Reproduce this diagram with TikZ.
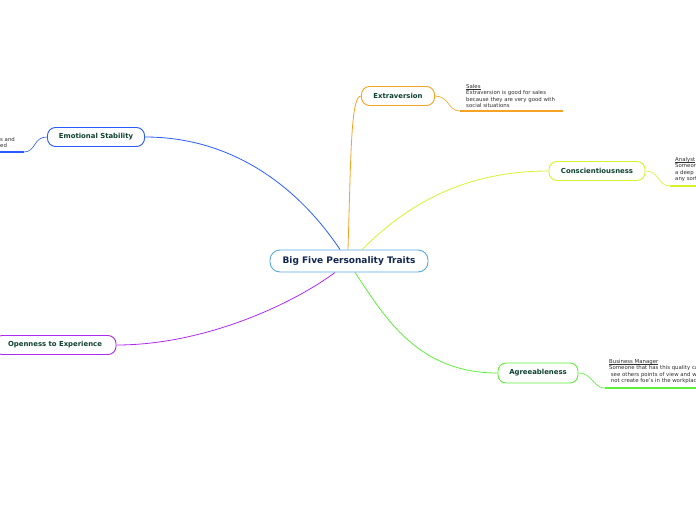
\documentclass[tikz,border=0pt]{standalone}
\usepackage{fontspec}
\setmainfont{DejaVu Sans}
\usepackage{xcolor}
\usetikzlibrary{positioning,backgrounds}
\definecolor{rootline}{HTML}{5AA8E0}
\definecolor{roottext}{HTML}{12264F}
\definecolor{topictext}{HTML}{0E3F30}
\definecolor{notetext}{HTML}{2E2E2E}
\definecolor{emocol}{HTML}{2A5BFF}
\definecolor{extcol}{HTML}{F5A323}
\definecolor{concol}{HTML}{D8F22E}
\definecolor{agrcol}{HTML}{5CF03A}
\definecolor{opecol}{HTML}{AE2AF0}
\newcommand\noteul[1]{\leavevmode\setbox0\hbox{#1}\rlap{\vrule width\wd0 height -0.6pt depth 0.95pt}\box0}

\begin{document}
\begin{tikzpicture}[
    x=1pt,y=-1pt,
    topic/.style={rectangle,draw,fill=white,rounded corners=8pt,line width=0.9pt,
                  minimum height=19pt,inner sep=0pt,text=topictext,
                  font=\fontsize{6.9}{7.5}\selectfont\bfseries},
    note/.style={anchor=south west,align=left,inner sep=0pt,text=notetext,
                 font=\fontsize{5.4}{6.4}\selectfont},
    branch/.style={line width=0.8pt},
    twig/.style={line width=0.6pt},
    baseline/.style={line width=1.3pt},
]
\clip (0,0) rectangle (696,520);

\node[topic,draw=rootline,text=roottext,minimum width=158pt,minimum height=22pt,
      rounded corners=10pt,font=\fontsize{9}{10}\selectfont\bfseries] (root) at (349,261) {Big Five Personality Traits};
\node[topic,draw=extcol,minimum width=73pt] (ext) at (398,96) {Extraversion};
\node[topic,draw=emocol,minimum width=97pt] (emo) at (96,137) {Emotional Stability};
\node[topic,draw=concol,minimum width=96pt] (con) at (597,171) {Conscientiousness};
\node[topic,draw=agrcol,minimum width=80pt,minimum height=20pt] (agr) at (538,373) {Agreeableness};
\node[topic,draw=opecol,minimum width=122pt] (ope) at (55,345) {Openness to Experience};

\coordinate (salesA) at (460,111);
\coordinate (salesB) at (563,111);
\coordinate (analystA) at (670,186);
\coordinate (analystB) at (696,186);
\coordinate (managerA) at (605,388);
\coordinate (managerB) at (696,388);
\coordinate (stableA) at (24,152);
\coordinate (stableB) at (0,152);

\node[note] (sales) at (466,108) {\noteul{Sales}\\Extraversion is good for sales\\because they are very good with\\social situations};
\node[note] (analyst) at (675,182) {\noteul{Analyst}\\Someone\\a deep\\any sort};
\node[note] (manager) at (609,384) {\noteul{Business Manager}\\Someone that has this quality can\\\hbox{} see others points of view and will\\\hbox{} not create foe's in the workplace};
\node[note] (stable) at (0,148) {s and\\ed};

\begin{scope}[on background layer]
\draw[branch,emocol] ([xshift=-9pt]root.north) .. controls +(-40,-60) and +(90,0) .. (emo.east);
\draw[branch,extcol] ([xshift=-1pt]root.north) .. controls +(3,-100) and +(-10,0) .. (ext.west);
\draw[branch,concol] ([xshift=13pt]root.north) .. controls +(40,-40) and +(-90,0) .. (con.west);
\draw[branch,agrcol] ([xshift=6pt]root.south) .. controls +(30,45) and +(-80,0) .. (agr.west);
\draw[branch,opecol] ([xshift=-14pt]root.south) .. controls +(-40,30) and +(90,0) .. (ope.east);

\draw[twig,extcol] (ext.east) .. controls +(14,0) and +(-12,0) .. (salesA);
\draw[baseline,extcol] (salesA) -- (salesB);
\draw[twig,concol] (con.east) .. controls +(14,0) and +(-12,0) .. (analystA);
\draw[baseline,concol] (analystA) -- (analystB);
\draw[twig,agrcol] (agr.east) .. controls +(14,0) and +(-12,0) .. (managerA);
\draw[baseline,agrcol] (managerA) -- (managerB);
\draw[twig,emocol] (emo.west) .. controls +(-14,0) and +(12,0) .. (stableA);
\draw[baseline,emocol] (stableA) -- (stableB);
\end{scope}
\end{tikzpicture}
\end{document}
